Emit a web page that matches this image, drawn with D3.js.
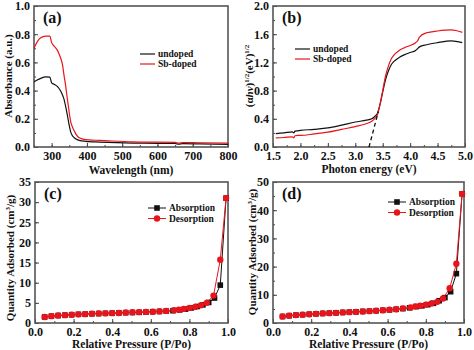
<!DOCTYPE html>
<html>
<head>
<meta charset="utf-8">
<script src="https://cdn.jsdelivr.net/npm/d3@7"></script>
<style>
  html, body { margin: 0; padding: 0; background: #fff; }
  svg { display: block; }
  text { font-family: "Liberation Serif", "Times New Roman", serif; font-weight: bold; fill: #111; }
</style>
</head>
<body>
<div id="fig"></div>
<script>
// ---- (a) UV-vis absorbance ----
const waveA = [250, 259, 269, 283, 295, 300, 307, 316, 321, 326, 331, 335, 340, 345, 348, 351, 354, 359, 364, 368, 378, 397, 406, 435, 530, 600, 650, 660, 672, 720, 800];
const undopedA = [0.462, 0.475, 0.487, 0.497, 0.495, 0.455, 0.445, 0.43, 0.415, 0.395, 0.367, 0.34, 0.284, 0.22, 0.178, 0.14, 0.107, 0.08, 0.066, 0.058, 0.047, 0.04, 0.038, 0.035, 0.028, 0.026, 0.025, 0.02, 0.024, 0.022, 0.019];
const sbA = [0.70, 0.746, 0.775, 0.787, 0.787, 0.74, 0.716, 0.687, 0.66, 0.628, 0.58, 0.51, 0.43, 0.332, 0.28, 0.225, 0.18, 0.142, 0.115, 0.095, 0.066, 0.052, 0.05, 0.047, 0.036, 0.034, 0.033, 0.027, 0.032, 0.03, 0.028];

// ---- (b) Tauc plot ----
const energyB = [1.55, 1.7, 1.85, 1.88, 1.9, 1.95, 2.0, 2.25, 2.5, 2.75, 3.0, 3.2, 3.3, 3.35, 3.4, 3.45, 3.5, 3.55, 3.6, 3.65, 3.7, 3.8, 3.9, 4.0, 4.1, 4.13, 4.17, 4.3, 4.5, 4.75, 4.95];
const undopedB = [0.19, 0.2, 0.215, 0.2, 0.225, 0.23, 0.235, 0.25, 0.27, 0.31, 0.355, 0.38, 0.40, 0.43, 0.47, 0.6, 0.78, 0.95, 1.07, 1.16, 1.21, 1.27, 1.31, 1.34, 1.37, 1.39, 1.42, 1.45, 1.48, 1.505, 1.48];
const sbB = [0.13, 0.135, 0.145, 0.13, 0.16, 0.165, 0.165, 0.185, 0.21, 0.25, 0.29, 0.33, 0.365, 0.40, 0.45, 0.6, 0.80, 1.0, 1.14, 1.24, 1.30, 1.37, 1.41, 1.44, 1.48, 1.50, 1.56, 1.62, 1.645, 1.66, 1.625];
const tangentE = [3.25, 3.42];
const tangentY = [0.0, 0.5];

// ---- (c) / (d) N2 isotherms ----
const pAds = [0.05, 0.085, 0.12, 0.155, 0.19, 0.225, 0.26, 0.295, 0.33, 0.365, 0.40, 0.435, 0.47, 0.505, 0.54, 0.575, 0.61, 0.645, 0.68, 0.715, 0.75, 0.78, 0.81, 0.84, 0.87, 0.90, 0.93, 0.96, 0.99];
const pDes = [0.99, 0.96, 0.925, 0.89, 0.86, 0.83, 0.80, 0.77, 0.745, 0.72, 0.68, 0.645, 0.61, 0.575, 0.54, 0.505, 0.47, 0.435, 0.40, 0.365, 0.33, 0.295, 0.26, 0.225, 0.19, 0.155, 0.12, 0.085, 0.05];
const adsC = [1.5, 1.7, 1.85, 1.95, 2.05, 2.15, 2.2, 2.3, 2.35, 2.4, 2.45, 2.5, 2.55, 2.6, 2.65, 2.7, 2.8, 2.85, 2.95, 3.05, 3.25, 3.45, 3.75, 4.1, 4.5, 5.1, 6.2, 9.4, 31];
const desC = [31, 15.7, 6.8, 5.0, 4.4, 4.0, 3.75, 3.5, 3.3, 3.2, 3.0, 2.9, 2.8, 2.75, 2.7, 2.65, 2.6, 2.5, 2.45, 2.4, 2.35, 2.3, 2.2, 2.15, 2.05, 1.95, 1.85, 1.7, 1.5];
const adsD = [2.3, 2.6, 2.8, 2.95, 3.1, 3.25, 3.4, 3.5, 3.6, 3.75, 3.85, 3.95, 4.1, 4.2, 4.35, 4.5, 4.65, 4.85, 5.1, 5.4, 5.8, 6.1, 6.5, 7.0, 7.9, 9.0, 11.1, 17.5, 45.8];
const desD = [45.8, 21, 12.3, 8.7, 7.5, 6.9, 6.5, 6.1, 5.9, 5.5, 5.2, 4.9, 4.7, 4.5, 4.35, 4.2, 4.1, 3.95, 3.85, 3.75, 3.6, 3.5, 3.4, 3.25, 3.1, 2.95, 2.8, 2.6, 2.3];

const BLACK = '#111111';
const RED = '#e8141b';

const svg = d3.select('#fig').append('svg')
    .attr('width', 474).attr('height', 350);

// Draws one panel frame with inward ticks; returns scales + group
function panel(cfg) {
    const x = d3.scaleLinear().domain(cfg.xDomain).range([cfg.left, cfg.right]);
    const y = d3.scaleLinear().domain(cfg.yDomain).range([cfg.bottom, cfg.top]);
    const g = svg.append('g');

    // minor ticks
    const xAxisMinor = d3.axisBottom(x).tickValues(d3.range(cfg.xDomain[0], cfg.xDomain[1] + 1e-9, cfg.xMinor))
        .tickSize(-2).tickFormat('');
    const yAxisMinor = d3.axisLeft(y).tickValues(d3.range(cfg.yDomain[0], cfg.yDomain[1] + 1e-9, cfg.yMinor))
        .tickSize(-2).tickFormat('');
    g.append('g').attr('transform', `translate(0,${cfg.bottom})`).call(xAxisMinor);
    g.append('g').attr('transform', `translate(${cfg.left},0)`).call(yAxisMinor);

    const xAxis = d3.axisBottom(x).tickValues(cfg.xTicks).tickSizeInner(-4).tickSizeOuter(0)
        .tickPadding(cfg.xPad).tickFormat(cfg.xFmt);
    const yAxis = d3.axisLeft(y).tickValues(cfg.yTicks).tickSizeInner(-4).tickSizeOuter(0)
        .tickPadding(4).tickFormat(cfg.yFmt);
    g.append('g').attr('transform', `translate(0,${cfg.bottom})`).call(xAxis);
    g.append('g').attr('transform', `translate(${cfg.left},0)`).call(yAxis);

    g.selectAll('.domain').remove();
    g.selectAll('.tick line').attr('stroke', '#444').attr('stroke-width', 1);
    g.selectAll('.tick text').attr('font-size', '12px').attr('fill', '#111')
        .style('font-family', '"Liberation Serif", serif').style('font-weight', 'bold');

    g.append('rect')
        .attr('x', cfg.left).attr('y', cfg.top)
        .attr('width', cfg.right - cfg.left).attr('height', cfg.bottom - cfg.top)
        .attr('fill', 'none').attr('stroke', '#555').attr('stroke-width', 1.6);

    // panel letter
    g.append('text').attr('x', cfg.left + 9).attr('y', cfg.top + 17)
        .attr('font-size', '16px').text(cfg.letter);

    // x title
    g.append('text').attr('x', (cfg.left + cfg.right) / 2).attr('y', cfg.xTitleY)
        .attr('text-anchor', 'middle').attr('font-size', '11.5px').text(cfg.xTitle);

    return { x, y, g };
}

function yTitle(g, xPos, yMid, parts, size) {
    const t = g.append('text')
        .attr('transform', `translate(${xPos},${yMid}) rotate(-90)`)
        .attr('text-anchor', 'middle').attr('font-size', size);
    parts.forEach(p => {
        const ts = t.append('tspan').text(p.t);
        if (p.sup) ts.attr('baseline-shift', 'super').attr('font-size', '7px');
        if (p.it) ts.attr('font-style', 'italic');
    });
}

function lineLegend(g, x0, y0, items) {
    items.forEach((it, i) => {
        const yy = y0 + i * 10;
        g.append('line').attr('x1', x0).attr('x2', x0 + 15).attr('y1', yy).attr('y2', yy)
            .attr('stroke', it.color).attr('stroke-width', 1.2);
        g.append('text').attr('x', x0 + 18).attr('y', yy + 3)
            .attr('font-size', '9.5px').text(it.label);
    });
}

function markerLegend(g, x0, y0) {
    const rows = [{ label: 'Absorption', color: BLACK, shape: 'sq' }, { label: 'Desorption', color: RED, shape: 'ci' }];
    rows.forEach((r, i) => {
        const yy = y0 + i * 10.5;
        g.append('line').attr('x1', x0).attr('x2', x0 + 18).attr('y1', yy).attr('y2', yy)
            .attr('stroke', r.color).attr('stroke-width', 1);
        if (r.shape === 'sq') {
            g.append('rect').attr('x', x0 + 9 - 2.8).attr('y', yy - 2.8).attr('width', 5.6).attr('height', 5.6).attr('fill', r.color);
        } else {
            g.append('circle').attr('cx', x0 + 9).attr('cy', yy).attr('r', 3.2).attr('fill', r.color);
        }
        g.append('text').attr('x', x0 + 21).attr('y', yy + 3)
            .attr('font-size', '9.5px').text(r.label);
    });
}

const fmt1 = d3.format('.1f');

// ---------- (a) ----------
{
    const p = panel({
        left: 34, right: 228, top: 6, bottom: 147,
        xDomain: [250, 800], yDomain: [0, 1],
        xTicks: [300, 400, 500, 600, 700, 800], xMinor: 50, xFmt: d3.format('d'),
        yTicks: [0, 0.2, 0.4, 0.6, 0.8, 1.0], yMinor: 0.1, yFmt: fmt1,
        xPad: 4, letter: '(a)', xTitle: 'Wavelength (nm)', xTitleY: 174
    });
    const line = d3.line().x((d, i) => p.x(waveA[i])).y(d => p.y(d)).curve(d3.curveMonotoneX);
    p.g.append('path').datum(undopedA).attr('d', line).attr('fill', 'none').attr('stroke', BLACK).attr('stroke-width', 1.2);
    p.g.append('path').datum(sbA).attr('d', line).attr('fill', 'none').attr('stroke', RED).attr('stroke-width', 1.2);
    yTitle(p.g, 12, 76, [{ t: 'Absorbance (a.u.)' }], '11px');
    lineLegend(p.g, 140, 54, [{ label: 'undoped', color: BLACK }, { label: 'Sb-doped', color: RED }]);
}

// ---------- (b) ----------
{
    const p = panel({
        left: 273, right: 465, top: 6, bottom: 147,
        xDomain: [1.5, 5.0], yDomain: [0, 2.0],
        xTicks: [1.5, 2.0, 2.5, 3.0, 3.5, 4.0, 4.5, 5.0], xMinor: 0.25, xFmt: fmt1,
        yTicks: [0, 0.4, 0.8, 1.2, 1.6, 2.0], yMinor: 0.2, yFmt: fmt1,
        xPad: 4, letter: '(b)', xTitle: 'Photon energy (eV)', xTitleY: 173
    });
    const line = d3.line().x((d, i) => p.x(energyB[i])).y(d => p.y(d)).curve(d3.curveMonotoneX);
    p.g.append('path').datum(undopedB).attr('d', line).attr('fill', 'none').attr('stroke', BLACK).attr('stroke-width', 1.2);
    p.g.append('path').datum(sbB).attr('d', line).attr('fill', 'none').attr('stroke', RED).attr('stroke-width', 1.2);
    p.g.append('line')
        .attr('x1', p.x(tangentE[0])).attr('y1', p.y(tangentY[0]))
        .attr('x2', p.x(tangentE[1])).attr('y2', p.y(tangentY[1]))
        .attr('stroke', BLACK).attr('stroke-width', 1.3).attr('stroke-dasharray', '4,3');
    yTitle(p.g, 253, 76, [{ t: '(α' }, { t: 'hν', it: true }, { t: ')' }, { t: '1/2', sup: true }, { t: '(eV)' }, { t: '1/2', sup: true }], '11px');
    lineLegend(p.g, 295, 49, [{ label: 'undoped', color: BLACK }, { label: 'Sb-doped', color: RED }]);
}

function isotherm(p, ads, des) {
    const lineA = d3.line().x((d, i) => p.x(pAds[i])).y(d => p.y(d));
    const lineD = d3.line().x((d, i) => p.x(pDes[i])).y(d => p.y(d));
    p.g.append('path').datum(ads).attr('d', lineA).attr('fill', 'none').attr('stroke', BLACK).attr('stroke-width', 1);
    p.g.selectAll(null).data(ads).join('rect')
        .attr('x', (d, i) => p.x(pAds[i]) - 2.8).attr('y', d => p.y(d) - 2.8)
        .attr('width', 5.6).attr('height', 5.6).attr('fill', BLACK);
    p.g.append('path').datum(des).attr('d', lineD).attr('fill', 'none').attr('stroke', RED).attr('stroke-width', 1);
    p.g.selectAll(null).data(des).join('circle')
        .attr('cx', (d, i) => p.x(pDes[i])).attr('cy', d => p.y(d))
        .attr('r', 3.2).attr('fill', RED);
}

// ---------- (c) ----------
{
    const p = panel({
        left: 35, right: 228, top: 182, bottom: 323,
        xDomain: [0, 1], yDomain: [0, 35],
        xTicks: [0, 0.2, 0.4, 0.6, 0.8, 1.0], xMinor: 0.1, xFmt: fmt1,
        yTicks: [0, 5, 10, 15, 20, 25, 30, 35], yMinor: 5, yFmt: d3.format('d'),
        xPad: 4, letter: '(c)', xTitle: 'Relative Pressure (P/Po)', xTitleY: 348
    });
    isotherm(p, adsC, desC);
    yTitle(p.g, 14, 258, [{ t: 'Quantity Adsorbed (cm' }, { t: '3', sup: true }, { t: '/g)' }], '11px');
    markerLegend(p.g, 148, 208);
}

// ---------- (d) ----------
{
    const p = panel({
        left: 273, right: 464, top: 182, bottom: 323,
        xDomain: [0, 1], yDomain: [0, 50],
        xTicks: [0, 0.2, 0.4, 0.6, 0.8, 1.0], xMinor: 0.1, xFmt: fmt1,
        yTicks: [0, 10, 20, 30, 40, 50], yMinor: 5, yFmt: d3.format('d'),
        xPad: 4, letter: '(d)', xTitle: 'Relative Pressure (P/Po)', xTitleY: 348
    });
    isotherm(p, adsD, desD);
    yTitle(p.g, 256, 252, [{ t: 'Quantity Adsorbed (cm' }, { t: '3', sup: true }, { t: '/g)' }], '11px');
    markerLegend(p.g, 388, 202);
}
</script>
</body>
</html>
